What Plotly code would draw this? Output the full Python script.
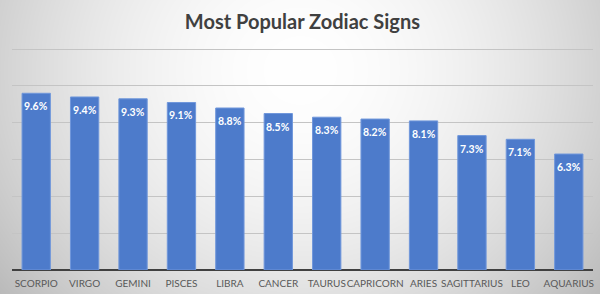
import base64, struct, zlib
import numpy as np
import plotly.graph_objects as go

signs = ["SCORPIO", "VIRGO", "GEMINI", "PISCES", "LIBRA", "CANCER", "TAURUS",
         "CAPRICORN", "ARIES", "SAGITTARIUS", "LEO", "AQUARIUS"]
percent = [9.6, 9.4, 9.3, 9.1, 8.8, 8.5, 8.3, 8.2, 8.1, 7.3, 7.1, 6.3]
title_text = "Most Popular Zodiac Signs"

W, H = 600, 294
L, R, T, B = 12, 7, 48, 24


def gradient_png(w, h):
    yy, xx = np.mgrid[0:h, 0:w].astype(float)
    r = np.sqrt(((xx - 300) / 300) ** 2 + ((yy - 70) / 280) ** 2)
    v = 255 - 44 * np.clip(r, 0, 1.3) ** 1.8
    v = np.clip(v, 0, 255).astype(np.uint8)
    raw = b"".join(b"\x00" + bytes(np.repeat(v[i][:, None], 3, axis=1).flatten()) for i in range(h))

    def chunk(tag, data):
        c = struct.pack(">I", len(data)) + tag + data
        return c + struct.pack(">I", zlib.crc32(tag + data) & 0xFFFFFFFF)

    png = b"\x89PNG\r\n\x1a\n"
    png += chunk(b"IHDR", struct.pack(">IIBBBBB", w, h, 8, 2, 0, 0, 0))
    png += chunk(b"IDAT", zlib.compress(raw, 9))
    png += chunk(b"IEND", b"")
    return "data:image/png;base64," + base64.b64encode(png).decode()


pw, ph = W - L - R, H - T - B

fig = go.Figure(
    go.Bar(
        x=signs,
        y=percent,
        marker=dict(color="#4d7bcb", line=dict(color="#7097db", width=1)),
        width=0.585,
        hoverinfo="skip",
    )
)

for s, p in zip(signs, percent):
    fig.add_annotation(
        x=s, y=p, text="<b>%.1f%%</b>" % p, showarrow=False,
        yanchor="middle", yshift=-13,
        font=dict(color="white", size=10.5, family="Lato"),
    )

fig.update_layout(
    width=W,
    height=H,
    margin=dict(l=L, r=R, t=T, b=B, autoexpand=False),
    paper_bgcolor="#e6e6e6",
    plot_bgcolor="rgba(0,0,0,0)",
    showlegend=False,
    title=dict(
        text="<b>" + title_text + "</b>",
        x=0.504,
        xanchor="center",
        y=1 - 22 / H,
        yanchor="middle",
        font=dict(family="Lato", size=20, color="#404040"),
    ),
    images=[dict(
        source=gradient_png(W, H),
        xref="paper", yref="paper",
        x=-L / pw, y=1 + T / ph,
        sizex=W / pw, sizey=H / ph,
        xanchor="left", yanchor="top",
        sizing="stretch", layer="below",
    )],
    xaxis=dict(
        showgrid=False,
        tickfont=dict(family="Lato", size=10, color="#595959"),
        tickangle=0,
        ticks="",
        ticklabelstandoff=6,
        showline=False,
        automargin=False,
        fixedrange=True,
    ),
    yaxis=dict(
        range=[0, 12.06],
        dtick=2,
        showticklabels=False,
        gridcolor="#c4c4c4",
        gridwidth=1,
        zeroline=True,
        zerolinecolor="#404040",
        zerolinewidth=2,
        automargin=False,
        fixedrange=True,
    ),
)

fig.write_html("out.html")
